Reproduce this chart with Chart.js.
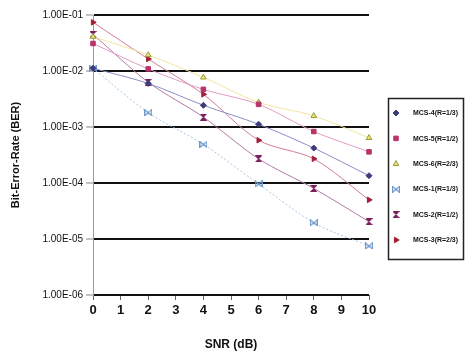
<!DOCTYPE html>
<html><head><meta charset="utf-8">
<script src="https://cdn.jsdelivr.net/npm/chart.js@4/dist/chart.umd.min.js"></script>
<style>html,body{margin:0;background:#fff}#w{width:474px;height:356px;position:relative}</style>
</head><body><div id="w"><canvas id="c"></canvas></div>
<script>
const snr = [0, 2, 4, 6, 8, 10];
const seriesNames = ['MCS-4(R=1/3)', 'MCS-5(R=1/2)', 'MCS-6(R=2/3)', 'MCS-1(R=1/3)', 'MCS-2(R=1/2)', 'MCS-3(R=2/3)'];
const mcs4 = [0.0112, 0.006, 0.00244, 0.00112, 0.00042, 0.000135];
const mcs5 = [0.031, 0.0109, 0.0047, 0.00254, 0.00083, 0.00036];
const mcs6 = [0.041, 0.0193, 0.0077, 0.00275, 0.00158, 0.00064];
const mcs1 = [0.0112, 0.0018, 0.00049, 0.000096, 0.0000195, 0.0000075];
const mcs2 = [0.045, 0.0063, 0.0015, 0.00027, 0.00008, 0.0000204];
const mcs3 = [0.074, 0.0164, 0.00383, 0.00058, 0.00027, 0.00005];
const yTicks = [1e-1, 1e-2, 1e-3, 1e-4, 1e-5, 1e-6];
const xTicks = [0, 1, 2, 3, 4, 5, 6, 7, 8, 9, 10];

const FONT = "'Liberation Sans', Arial, sans-serif";

function bowtieH(color) {
  const c = document.createElement('canvas'); c.width = 8; c.height = 7;
  const g = c.getContext('2d'); g.strokeStyle = color; g.lineWidth = 1.2;
  g.beginPath();
  g.moveTo(0.6, 0.6); g.lineTo(4, 3.5); g.lineTo(0.6, 6.4); g.closePath();
  g.moveTo(7.4, 0.6); g.lineTo(4, 3.5); g.lineTo(7.4, 6.4); g.closePath();
  g.stroke(); return c;
}
function hourglass(color) {
  const c = document.createElement('canvas'); c.width = 7; c.height = 7;
  const g = c.getContext('2d'); g.fillStyle = color; g.strokeStyle = color; g.lineWidth = 1;
  g.beginPath();
  g.moveTo(0.5, 0.5); g.lineTo(6.5, 0.5); g.lineTo(3.5, 3.5); g.closePath();
  g.moveTo(0.5, 6.5); g.lineTo(6.5, 6.5); g.lineTo(3.5, 3.5); g.closePath();
  g.fill(); g.stroke(); return c;
}

const styles = [
  {marker: '#3b3b7d', border: '#3b3b7d', line: '#8c8cc8', ps: 'rectRot', r: 3, rot: 0},
  {marker: '#b8336a', border: '#b8336a', line: '#e29ac4', ps: 'rect', r: 3.2, rot: 0},
  {marker: '#ece27a', border: '#9a9a3a', line: '#f2e6a0', ps: 'triangle', r: 3.3, rot: 0},
  {marker: '#7aa0d0', border: '#7aa0d0', line: '#a8c4e4', ps: bowtieH('#6d98cc'), r: 3.5, rot: 0, dash: [2, 2]},
  {marker: '#7a1f5a', border: '#7a1f5a', line: '#b07aa8', ps: hourglass('#7a1f5a'), r: 3.5, rot: 0},
  {marker: '#a31d3a', border: '#a31d3a', line: '#d27c94', ps: 'triangle', r: 3.2, rot: 90}
];
const seriesData = [mcs4, mcs5, mcs6, mcs1, mcs2, mcs3];

const datasets = seriesData.map((vals, i) => ({
  label: seriesNames[i],
  data: vals.map((v, j) => ({x: snr[j], y: v})),
  borderColor: styles[i].line,
  borderWidth: 1,
  borderDash: styles[i].dash || [],
  backgroundColor: styles[i].marker,
  pointBackgroundColor: styles[i].marker,
  pointBorderColor: styles[i].border,
  pointBorderWidth: 1,
  pointStyle: styles[i].ps,
  pointRotation: styles[i].rot,
  pointRadius: styles[i].r,
  tension: 0.3,
  clip: false
}));

function fmtE(v) {
  const e = Math.round(Math.log10(v));
  return '1.00E' + (e < 0 ? '-' : '+') + String(Math.abs(e)).padStart(2, '0');
}

const legendBox = {
  id: 'legendBox',
  afterDraw(chart) {
    const ctx = chart.ctx;
    ctx.save();
    ctx.strokeStyle = '#222'; ctx.lineWidth = 1.5;
    ctx.strokeRect(388.5, 98.5, 75, 161);
    ctx.font = "bold 8px 'Liberation Sans', Arial, sans-serif";
    ctx.textBaseline = 'middle'; ctx.textAlign = 'left';
    seriesNames.forEach((name, i) => {
      const y = 113 + i * 25.4;
      const s = styles[i];
      ctx.fillStyle = s.marker; ctx.strokeStyle = s.border; ctx.lineWidth = 1;
      Chart.helpers.drawPoint(ctx, {pointStyle: s.ps, rotation: s.rot, radius: s.r, borderWidth: 1}, 396, y);
      ctx.fillStyle = '#111';
      ctx.fillText(name, 413, y, 45);
    });
    ctx.restore();
  }
};

new Chart(document.getElementById('c'), {
  type: 'line',
  data: {datasets},
  plugins: [legendBox],
  options: {
    responsive: true,
    maintainAspectRatio: false,
    animation: false,
    layout: {padding: {top: 15, right: 105, left: 9, bottom: 0}},
    plugins: {legend: {display: false}, tooltip: {enabled: false}},
    scales: {
      x: {
        type: 'linear', min: 0, max: 10,
        afterBuildTicks: s => { s.ticks = xTicks.map(v => ({value: v})); },
        afterFit: s => { s.height = 61; },
        ticks: {color: '#111', font: {family: FONT, size: 13, weight: 'bold'}, padding: 3, maxRotation: 0},
        grid: {drawOnChartArea: false, color: '#666', tickLength: 5},
        border: {display: false},
        title: {display: true, text: 'SNR (dB)', color: '#111', font: {family: FONT, size: 12, weight: 'bold'}, padding: {top: 10}}
      },
      y: {
        type: 'logarithmic', min: 1e-6, max: 1e-1,
        afterBuildTicks: s => { s.ticks = yTicks.map(v => ({value: v})); },
        afterFit: s => { s.width = 84; },
        ticks: {color: '#111', font: {family: FONT, size: 10}, padding: 3, callback: v => fmtE(v)},
        grid: {color: '#111', lineWidth: 2, tickColor: '#888', tickWidth: 1, tickLength: 7},
        border: {color: '#999', width: 1},
        title: {display: true, text: 'Bit-Error-Rate (BER)', color: '#111', font: {family: FONT, size: 11, weight: 'bold'}, padding: {top: 0, bottom: 4}}
      }
    }
  }
});
</script></body></html>
